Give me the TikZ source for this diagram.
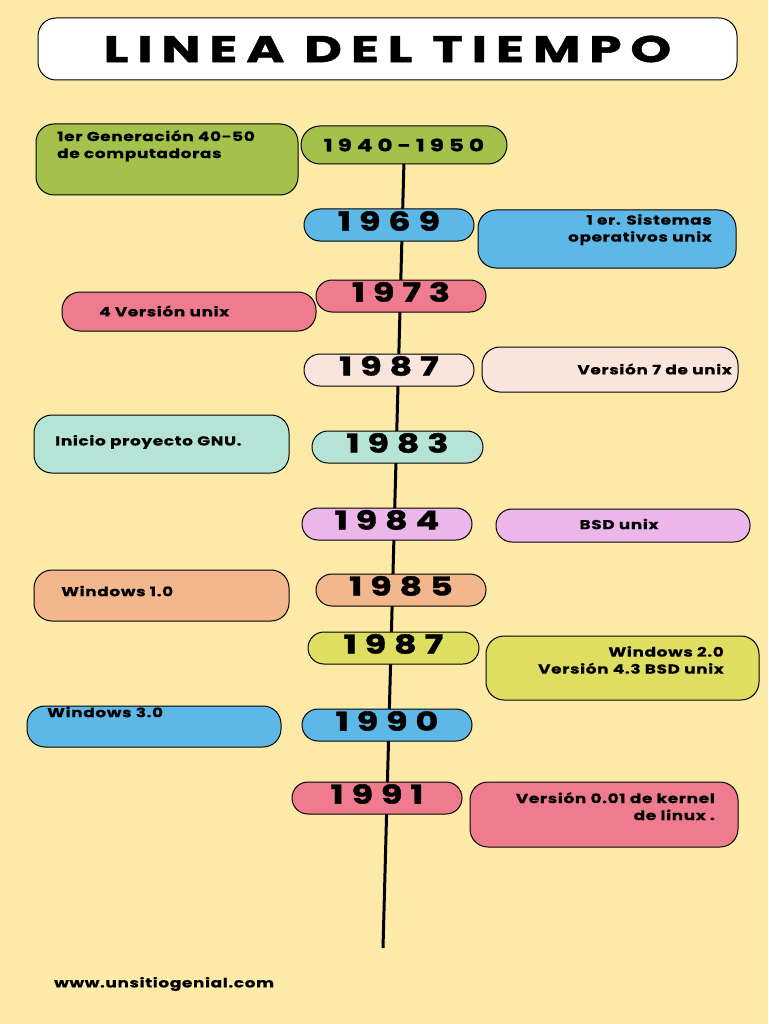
\documentclass[tikz,border=0pt]{standalone}
\usepackage{fontspec}
\setmainfont{Poppins}
\newfontfamily\yearfont{Poppins}[LetterSpace=30,FakeStretch=1.35,FakeBold=1.5]
\newfontfamily\titlefont{Poppins}[LetterSpace=24,FakeStretch=1.4,FakeBold=1.5]
\newfontfamily\labfont{Poppins}[LetterSpace=5,FakeStretch=1.3,FakeBold=0.5]
\definecolor{bg}{HTML}{FDEAA8}
\definecolor{cgreen}{HTML}{A4C14B}
\definecolor{cblue}{HTML}{5DB8E8}
\definecolor{cpink}{HTML}{EF7B8E}
\definecolor{clight}{HTML}{FAE5DC}
\definecolor{cmint}{HTML}{B5E3D5}
\definecolor{clilac}{HTML}{EDB6EA}
\definecolor{cpeach}{HTML}{F2B78C}
\definecolor{cyellow}{HTML}{DEDE60}
\newcommand\mybox[7]{\node[draw=black,line width=1pt,rounded corners=#7pt,inner sep=0pt,fill=#6,minimum width={(#4-#2)*1pt},minimum height={(#5-#3)*1pt}] (#1) at ({(#2+#4)/2},{(#3+#5)/2}) {};}
\tikzset{lab/.style={font=\labfont\bfseries\fontsize{13}{17}\selectfont,inner sep=0pt},
year/.style={font=\yearfont\bfseries\fontsize{26}{26}\selectfont,inner sep=0pt,yshift=4pt}}
\begin{document}
\begin{tikzpicture}[x=1pt,y=-1pt]
\fill[bg] (0,0) rectangle (768,1024);
\useasboundingbox (0,0) rectangle (768,1024);
\mybox{title}{38}{18}{737}{80}{white}{18}
\node[font=\titlefont\bfseries\fontsize{37}{37}\selectfont] at (title) {LINEA DEL TIEMPO};
\coordinate (ltop) at (404,160); \coordinate (lbot) at (383,948);
\draw[line width=3pt] (ltop) -- (lbot);
\mybox{y1}{301}{126}{507}{164}{cgreen}{19}
\node[year,font=\yearfont\bfseries\fontsize{17}{17}\selectfont,yshift=-4pt] at (y1) {1940-1950};
\mybox{y2}{304}{209}{474}{241}{cblue}{16}\node[year] at (y2) {1969};
\mybox{y3}{316}{280}{486}{312}{cpink}{16}\node[year] at (y3) {1973};
\mybox{y4}{304}{354}{474}{386}{clight}{16}\node[year] at (y4) {1987};
\mybox{y5}{312}{431}{483}{463}{cmint}{16}\node[year] at (y5) {1983};
\mybox{y6}{302}{508}{472}{540}{clilac}{16}\node[year] at (y6) {1984};
\mybox{y7}{316}{574}{486}{606}{cpeach}{16}\node[year] at (y7) {1985};
\mybox{y8}{308}{632}{479}{664}{cyellow}{16}\node[year] at (y8) {1987};
\mybox{y9}{302}{709}{472}{741}{cblue}{16}\node[year] at (y9) {1990};
\mybox{y10}{292}{782}{462}{814}{cpink}{16}\node[year] at (y10) {1991};
\mybox{b1}{36}{124}{298}{195}{cgreen}{18}
\node[lab,anchor=north west,align=left] at (57,130) {1er Generación 40-50\\de computadoras};
\mybox{b2}{478}{210}{736}{268}{cblue}{18}
\node[lab,anchor=north east,align=right] at (712,214) {1 er. Sistemas\\operativos unix};
\mybox{b3}{62}{292}{316}{331}{cpink}{18}
\node[lab,anchor=west] at (99,311) {4 Versión unix};
\mybox{b4}{482}{347}{738}{392}{clight}{18}
\node[lab,anchor=east] at (732,369) {Versión 7 de unix};
\mybox{b5}{34}{415}{289}{473}{cmint}{18}
\node[lab,anchor=west] at (55,442) {Inicio proyecto GNU.};
\mybox{b6}{496}{509}{750}{542}{clilac}{16}
\node[lab] at (619,524) {BSD unix};
\mybox{b7}{34}{570}{289}{621}{cpeach}{18}
\node[lab,anchor=west] at (61,591) {Windows 1.0};
\mybox{b8}{486}{636}{759}{700}{cyellow}{18}
\node[lab,anchor=north east,align=right] at (724,646) {Windows 2.0\\Versión 4.3 BSD unix};
\mybox{b9}{27}{706}{281}{747}{cblue}{18}
\node[lab,anchor=west] at (47,712) {Windows 3.0};
\mybox{b10}{470}{782}{738}{847}{cpink}{18}
\node[lab,anchor=north east,align=right] at (715,792) {Versión 0.01 de kernel\\de linux .};
\node[lab,anchor=west] (foot) at (54,984) {www.unsitiogenial.com};
\end{tikzpicture}
\end{document}
